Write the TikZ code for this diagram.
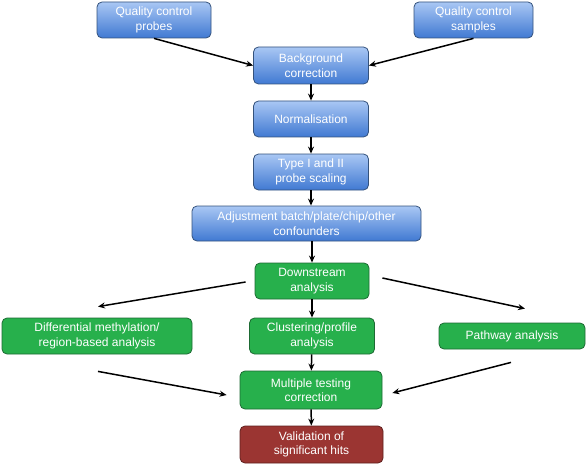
\documentclass[tikz,border=0pt]{standalone}
\usepackage{fontspec}
\setmainfont{Liberation Sans}
\usetikzlibrary{shadings,arrows.meta}
\definecolor{blueTop}{HTML}{A9C7F4}
\definecolor{blueBot}{HTML}{4079D2}
\definecolor{blueEdge}{HTML}{34527C}
\definecolor{greenFill}{HTML}{27B04C}
\definecolor{greenEdge}{HTML}{1D6A33}
\definecolor{redFill}{HTML}{9B3532}
\definecolor{redEdge}{HTML}{5E201E}
\tikzset{
  box/.style={rounded corners=5pt, draw, line width=0.8pt, align=center, text=white,
    font=\fontsize{12}{14.5}\selectfont, inner sep=1pt},
  bluebox/.style={box, draw=blueEdge, top color=blueTop, bottom color=blueBot},
  greenbox/.style={box, draw=greenEdge, fill=greenFill},
  redbox/.style={box, draw=redEdge, fill=redFill},
  arr/.style={-{Stealth[length=7pt,width=6pt]}, line width=1.5pt}
}
\begin{document}
\begin{tikzpicture}[x=1pt,y=-1pt]
				\useasboundingbox (0,0) rectangle (586,468);
				\node[bluebox, minimum width=114pt, minimum height=36pt] (qcprobes) at (154,20) {Quality control\\probes};
				\node[bluebox, minimum width=119pt, minimum height=36pt] (qcsamples) at (473.5,20) {Quality control\\samples};
				\node[bluebox, minimum width=115pt, minimum height=37pt] (background) at (311,65.5) {Background\\correction};
				\node[bluebox, minimum width=115pt, minimum height=36pt] (normal) at (311,119) {Normalisation};
				\node[bluebox, minimum width=115pt, minimum height=36pt] (scaling) at (311,172) {Type I and II\\probe scaling};
				\node[bluebox, minimum width=229pt, minimum height=35pt] (adjust) at (306.5,223.5) {Adjustment batch/plate/chip/other\\confounders};
				\node[greenbox, minimum width=114pt, minimum height=36pt] (downstream) at (312,281) {Downstream\\analysis};
				\node[greenbox, minimum width=190pt, minimum height=36pt] (diffmeth) at (97,336) {Differential methylation/\\region-based analysis};
				\node[greenbox, minimum width=125pt, minimum height=36pt] (cluster) at (312,336) {Clustering/profile\\analysis};
				\node[greenbox, minimum width=146pt, minimum height=26pt] (pathway) at (512,336) {Pathway analysis};
				\node[greenbox, minimum width=142pt, minimum height=38pt] (multiple) at (311,390) {Multiple testing\\correction};
				\node[redbox, minimum width=143pt, minimum height=37pt] (validation) at (311.5,444.5) {Validation of\\significant hits};
				% top part
				\draw[arr] (qcprobes.south) -- (background.west);
				\draw[arr] (qcsamples.south) -- (background.east);
				\draw[arr] (background) -- (normal);
				\draw[arr] (normal) -- (scaling);
				\draw[arr] (scaling) -- (scaling |- adjust.north);
				\draw[arr] (adjust.south -| downstream) -- (downstream);
				% analysis part
				\draw[arr] ([xshift=-9pt,yshift=-1pt]downstream.west) -- ([xshift=1pt,yshift=11pt]diffmeth.north);
				\draw[arr] ([xshift=13pt,yshift=3pt]downstream.east) -- ([xshift=13pt,yshift=14pt]pathway.north);
				\draw[arr] (downstream) -- (cluster);
				\draw[arr] ([xshift=1pt,yshift=-17pt]diffmeth.south) -- ([xshift=-13pt,yshift=-5pt]multiple.west);
				\draw[arr] ([xshift=-1pt,yshift=-13pt]pathway.south) -- ([xshift=10pt,yshift=-3pt]multiple.east);
				\draw[arr] (cluster) -- (multiple);
				\draw[arr] (multiple) -- (validation);
			\end{tikzpicture}
\end{document}
